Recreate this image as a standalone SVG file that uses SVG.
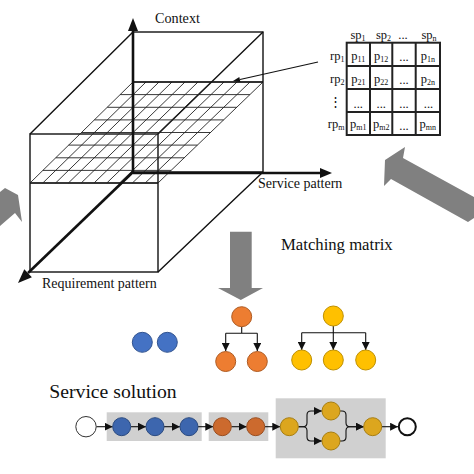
<svg xmlns="http://www.w3.org/2000/svg" width="474" height="474" viewBox="0 0 474 474">
<style>
.t{font-family:"Liberation Serif","DejaVu Serif",serif;fill:#111}
.box{fill:none;stroke:#111;stroke-width:1.4}
.grid{fill:none;stroke:#222;stroke-width:0.9}
.axis{fill:none;stroke:#111;stroke-width:2.6}
.con{fill:none;stroke:#111;stroke-width:1.1}
.big{fill:#808080}
.cell{fill:none;stroke:#222;stroke-width:2}
.blue{fill:#4472C4;stroke:#2F528F;stroke-width:1}
.org{fill:#ED7D31;stroke:#AE5A21;stroke-width:1}
.yel{fill:#FFC000;stroke:#BF9000;stroke-width:1}
.blue2{fill:#3D66AE;stroke:#2A4A80;stroke-width:1}
.org2{fill:#CC6A2E;stroke:#9A4E20;stroke-width:1}
.yel2{fill:#DCA61E;stroke:#A87E10;stroke-width:1}
.gbox{fill:#D0D0D0}
</style>
<defs>
<marker id="ah" viewBox="0 0 10 10" refX="10" refY="5" markerUnits="userSpaceOnUse" markerWidth="8" markerHeight="8" orient="auto">
<path d="M0,0 L10,5 L0,10 z" fill="#111"/>
</marker>
</defs>

<g id="cube">
<rect class="box" x="133" y="32" width="130" height="140"/>
<rect class="box" x="30" y="134" width="128" height="138"/>
<path class="box" d="M30,134 L133,32 M158,134 L263,32 M158,272 L263,172 M30,183 L158,183"/>
<path class="grid" d="M133,82 H263 M120.1,94.6 H249.9 M107.3,107.3 H236.8 M94.4,119.9 H223.6 M81.5,132.5 H210.5 M68.6,145.1 H197.4 M55.8,157.8 H184.3 M42.9,170.4 H171.1 M30,183 H158
M133,82 L30,183 M146,82 L42.8,183 M159,82 L55.6,183 M172,82 L68.4,183 M185,82 L81.2,183 M198,82 L94,183 M211,82 L106.8,183 M224,82 L119.6,183 M237,82 L132.4,183 M250,82 L145.2,183 M263,82 L158,183"/>
<path class="box" d="M133,82 H263"/>
</g>

<g id="axes">
<path class="axis" d="M133,173 V29"/>
<polygon points="133,18 128,31 138,31" fill="#111"/>
<path class="axis" d="M133,173 H321" stroke-width="3"/>
<polygon points="332,173 320,168 320,178" fill="#111"/>
<path class="axis" d="M133,172 L28,273"/>
<polygon points="18,283 31.9,277.2 24.3,269.3" fill="#111"/>
<text class="t" x="155" y="23" font-size="14.2">Context</text>
<text class="t" x="258" y="188" font-size="14">Service pattern</text>
<text class="t" x="42" y="288" font-size="14">Requirement pattern</text>
</g>

<g id="pointer">
<path class="con" d="M318,62 L240,79.5"/>
<polygon points="233,81 240.4,81.9 239.3,77" fill="#111"/>
</g>

<g id="matrix">
<rect class="cell" x="346.7" y="42.7" width="93.3" height="92.3"/>
<path class="cell" d="M370,42.7 V135 M392.3,42.7 V135 M415.7,42.7 V135 M346.7,66 H440 M346.7,89 H440 M346.7,112 H440"/>
<g class="t" font-size="12.5" text-anchor="middle">
<text x="358" y="39">sp<tspan font-size="8" dy="2">1</tspan></text>
<text x="383.5" y="39">sp<tspan font-size="8" dy="2">2</tspan></text>
<text x="403" y="39">...</text>
<text x="429" y="39">sp<tspan font-size="8" dy="2">n</tspan></text>
</g>
<g class="t" font-size="12.5" text-anchor="end">
<text x="344.5" y="59.5">rp<tspan font-size="8" dy="2">1</tspan></text>
<text x="344.5" y="82.5">rp<tspan font-size="8" dy="2">2</tspan></text>
<text x="342" y="106">⋮</text>
<text x="344.5" y="128">rp<tspan font-size="8" dy="2">m</tspan></text>
</g>
<g class="t" font-size="12.5" text-anchor="middle">
<text x="358.3" y="59.5">p<tspan font-size="8" dy="2">11</tspan></text>
<text x="381.2" y="59.5">p<tspan font-size="8" dy="2">12</tspan></text>
<text x="404" y="61">...</text>
<text x="427.8" y="59.5">p<tspan font-size="8" dy="2">1n</tspan></text>
<text x="358.3" y="82.5">p<tspan font-size="8" dy="2">21</tspan></text>
<text x="381.2" y="82.5">p<tspan font-size="8" dy="2">22</tspan></text>
<text x="404" y="84">...</text>
<text x="427.8" y="82.5">p<tspan font-size="8" dy="2">2n</tspan></text>
<text x="358.3" y="108">...</text>
<text x="381.2" y="108">...</text>
<text x="404" y="108">...</text>
<text x="428.5" y="108">...</text>
<text x="358.3" y="128">p<tspan font-size="8" dy="2">m1</tspan></text>
<text x="381.2" y="128">p<tspan font-size="8" dy="2">m2</tspan></text>
<text x="404" y="130">...</text>
<text x="427.8" y="128">p<tspan font-size="8" dy="2">mn</tspan></text>
</g>
</g>

<g id="big-arrows">
<polygon class="big" points="230,231.7 251.7,231.7 251.7,288 263,288 240.8,300 218,288 230,288"/>
<polygon class="big" points="405,147 385,160 384,186 391,179 468,222 474,218 474,197 403,158"/>
<polygon class="big" points="0,192 5,188 18,195 22,222 15,213 0,226"/>
<text class="t" x="281" y="249.5" font-size="16.7">Matching matrix</text>
</g>

<g id="patterns">
<circle class="blue" cx="142.3" cy="342.3" r="10"/>
<circle class="blue" cx="167.3" cy="342.3" r="10"/>
<path class="con" d="M241.7,326.7 V333.3 M225.7,333.3 H257.3"/>
<path class="con" d="M225.7,333.3 V351" marker-end="url(#ah)"/>
<path class="con" d="M257.3,333.3 V351" marker-end="url(#ah)"/>
<circle class="org" cx="241.7" cy="316.7" r="10"/>
<circle class="org" cx="225.7" cy="361.5" r="10"/>
<circle class="org" cx="257.3" cy="361.5" r="10"/>
<path class="con" d="M333.3,326 V332.7 M301.7,332.7 H365.7"/>
<path class="con" d="M301.7,332.7 V350" marker-end="url(#ah)"/>
<path class="con" d="M333.3,332.7 V350" marker-end="url(#ah)"/>
<path class="con" d="M365.7,332.7 V350" marker-end="url(#ah)"/>
<circle class="yel" cx="333.3" cy="316" r="10"/>
<circle class="yel" cx="301.7" cy="360" r="10"/>
<circle class="yel" cx="333.3" cy="360" r="10"/>
<circle class="yel" cx="365.7" cy="360" r="10"/>
</g>

<g id="solution">
<text class="t" x="49.3" y="398.3" font-size="19.7">Service solution</text>
<rect class="gbox" x="106.7" y="412.3" width="95" height="28.7"/>
<rect class="gbox" x="208.7" y="412.3" width="59.6" height="28.7"/>
<rect class="gbox" x="275.7" y="398.3" width="110" height="60"/>
</g>

<g id="solution-connectors">
<path class="con" d="M96.3,426.7 H112.7" marker-end="url(#ah)"/>
<path class="con" d="M130.7,426.7 H146" marker-end="url(#ah)"/>
<path class="con" d="M164,426.7 H180" marker-end="url(#ah)"/>
<path class="con" d="M198,426.7 H213.3" marker-end="url(#ah)"/>
<path class="con" d="M231.3,426.7 H246.7" marker-end="url(#ah)"/>
<path class="con" d="M264.7,426.7 H280.3" marker-end="url(#ah)"/>
<path class="con" d="M298.3,426.7 H303 Q307,426.7 307,422.7 V415 Q307,411 311,411 H322" marker-end="url(#ah)"/>
<path class="con" d="M298.3,426.7 H303 Q307,426.7 307,430.7 V437 Q307,441 311,441 H322" marker-end="url(#ah)"/>
<path class="con" d="M340,411 H342 Q346,411 346,415 V422.7 Q346,426.7 350,426.7 H363.7" marker-end="url(#ah)"/>
<path class="con" d="M340,441 H342 Q346,441 346,437 V430.7 Q346,426.7 350,426.7 H363.7" marker-end="url(#ah)"/>
<path class="con" d="M381.7,426.7 H398.1" marker-end="url(#ah)"/>
</g>

<g id="solution-nodes">
<circle cx="86" cy="426.7" r="10.2" fill="#fff" stroke="#333" stroke-width="1"/>
<circle class="blue2" cx="121.7" cy="426.7" r="9"/>
<circle class="blue2" cx="155" cy="426.7" r="9"/>
<circle class="blue2" cx="189" cy="426.7" r="9"/>
<circle class="org2" cx="222.3" cy="426.7" r="9"/>
<circle class="org2" cx="255.7" cy="426.7" r="9"/>
<circle class="yel2" cx="289.3" cy="426.7" r="9"/>
<circle class="yel2" cx="331" cy="411" r="9"/>
<circle class="yel2" cx="331" cy="441" r="9"/>
<circle class="yel2" cx="372.7" cy="426.7" r="9"/>
<circle cx="407.3" cy="426.7" r="8.5" fill="#fff" stroke="#111" stroke-width="2"/>
</g>
</svg>
